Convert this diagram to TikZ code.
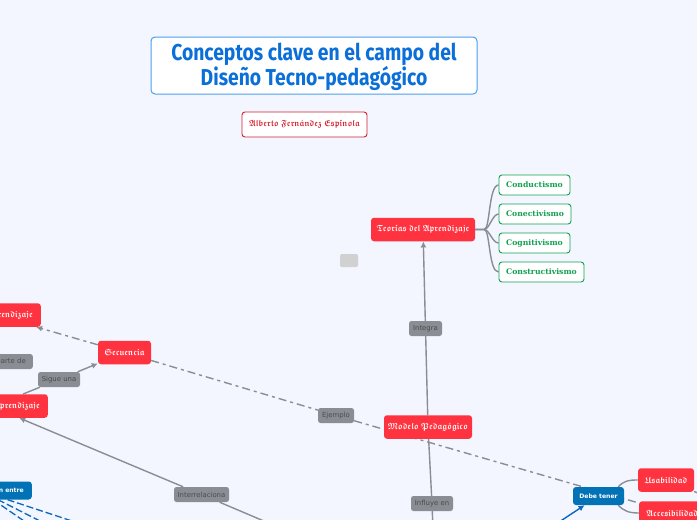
\documentclass[tikz,border=0pt]{standalone}
\usepackage{fontspec}
\usepackage{amsfonts}
\usepackage{xcolor}
\usetikzlibrary{arrows.meta,backgrounds}
\setsansfont{Fira Sans}[FakeStretch=0.84]
\newfontfamily\labfont{DejaVu Sans}
\newfontfamily\slabfont{DejaVu Serif}
\newcommand{\goth}[1]{\scalebox{0.89}[1]{\usefont{U}{euf}{b}{n}#1}}
\newcommand{\gs}{\hspace{0.3em}}
\newcommand{\gacc}[1]{\ooalign{\hidewidth{\normalfont\'{}}\hidewidth\cr #1}}
\definecolor{page}{HTML}{F3F6FE}
\definecolor{titleblue}{HTML}{0A6FD8}
\definecolor{titleline}{HTML}{4A9FF0}
\definecolor{hotred}{HTML}{FF3340}
\definecolor{darkred}{HTML}{D3202E}
\definecolor{leafgreen}{HTML}{12A150}
\definecolor{linkgrey}{HTML}{8A8D93}
\definecolor{deepblue}{HTML}{0072B5}
\definecolor{dashblue}{HTML}{0B66BF}
\tikzset{
  titlebox/.style={draw=titleline, line width=1pt, fill=white, rounded corners=4pt, text=titleblue, align=center, font=\sffamily\bfseries\fontsize{23}{25}\selectfont, minimum width=326pt, minimum height=57pt, inner sep=0pt},
  authorbox/.style={draw=darkred, line width=0.9pt, fill=white, rounded corners=3pt, text=darkred, font=\fontsize{9}{11}\selectfont, minimum width=125pt, minimum height=25pt, inner sep=0pt},
  redbox/.style={fill=hotred, rounded corners=3pt, text=white, font=\fontsize{9}{11}\selectfont, minimum height=23.5pt, inner sep=0pt},
  leafbox/.style={draw=leafgreen, line width=0.9pt, fill=white, rounded corners=3pt, text=leafgreen, font=\slabfont\bfseries\fontsize{7.7}{10}\selectfont, minimum height=20pt, inner sep=0pt},
  tagbox/.style={fill=linkgrey, rounded corners=2.5pt, text=black!70, font=\labfont\fontsize{6.9}{9}\selectfont, minimum height=15pt, inner sep=0pt},
  bluebox/.style={fill=deepblue, rounded corners=3pt, text=white, font=\labfont\bfseries\fontsize{6.1}{9}\selectfont, minimum height=18pt, inner sep=0pt},
  rightset/.style={anchor=east, text width=#1, align=right},
  link/.style={draw=linkgrey, line width=1.4pt},
  twig/.style={draw=linkgrey, line width=1.4pt},
  dashlink/.style={draw=linkgrey, line width=1.4pt, dash pattern=on 8pt off 4pt on 3pt off 4pt},
  bluedash/.style={draw=dashblue, line width=1.3pt, dash pattern=on 7pt off 3pt},
  tip/.style={-{Latex[length=6pt,width=6pt]}},
}
\begin{document}
\begin{tikzpicture}[x=1pt,y=-1pt]
  \useasboundingbox (0,0) rectangle (697,520);
  \clip (0,0) rectangle (697,520);

  % main boxes
  \node[titlebox] (title) at (314,65.5) {\rule{0pt}{20pt}Conceptos clave en el campo del\\Diseño Tecno-pedagógico};
  \node[authorbox] (author) at (304.5,124.5) {\goth{Alberto\gs Fern\gacc{a}ndez\gs Esp\gacc{i}nola}};
  \node[redbox,minimum width=104pt] (teorias) at (423,229.5) {\goth{Teor\gacc{i}as\gs del\gs Aprendizaje}};
  \node[redbox,minimum width=88pt] (modelo) at (428,427) {\goth{Modelo\gs Pedag\gacc{o}gico}};
  \node[redbox,minimum width=53pt] (secuencia) at (124.5,352.5) {\goth{Secuencia}};
  \node[redbox,rightset=92pt] (aprenA) at (41,315) {\goth{Aprendizaje}\hspace*{8pt}};
  \node[redbox,rightset=114pt] (aprenB) at (48,406) {\goth{Aprendizaje}\hspace*{8pt}};
  \node[redbox,minimum width=56pt] (usabilidad) at (666,480) {\goth{Usabilidad}};
  \node[redbox,minimum width=66pt,anchor=west] (acceso) at (639,513) {\goth{Accesibilidad}};

  % theories
  \node[leafbox,minimum width=71pt] (conduct) at (534.5,185) {Conductismo};
  \node[leafbox,minimum width=72pt] (conect) at (535,214) {Conectivismo};
  \node[leafbox,minimum width=71pt] (cognit) at (534.5,243) {Cognitivismo};
  \node[leafbox,minimum width=85pt] (construct) at (541.5,272) {Constructivismo};

  % link labels
  \node[tagbox,minimum width=33pt] (integra) at (425.5,328.5) {Integra};
  \node[tagbox,minimum width=42pt] (sigue) at (59,379.5) {Sigue una};
  \node[tagbox,minimum width=36pt] (ejemplo) at (336,415.5) {Ejemplo};
  \node[tagbox,minimum width=42pt] (influye) at (432,503.5) {Influye en};
  \node[tagbox,minimum width=55pt] (inter) at (201.5,494.5) {Interrelaciona};
  \node[tagbox,rightset=50pt] (parte) at (33,361.5) {parte de\hspace*{7pt}};
  \node[bluebox,minimum width=51pt] (debe) at (598.5,496) {Debe tener};
  \node[bluebox,rightset=104pt] (entre) at (32,490.5) {n entre\hspace*{8pt}};
  \node[fill=black!18,rounded corners=2pt,minimum width=18pt,minimum height=13pt,inner sep=0pt] (blank) at (349,260.5) {};

  % free ends
  \coordinate (endR) at (760,538);
  \coordinate (endI) at (433,530);
  \coordinate (endL) at (285,530);
  \coordinate (endB) at (550,528);
  \coordinate (endD1) at (75,522);
  \coordinate (endD2) at (42,522);
  \coordinate (endD3) at (24,521);
  \coordinate (endU) at (710,498);

  \begin{scope}[on background layer]
    \fill[page] (0,0) rectangle (697,520);
    \draw[link] (modelo) -- (integra);
    \draw[link,tip] (integra) -- (teorias);
    \draw[link] (modelo) -- (influye);
    \draw[link] (influye) -- (endI);
    \draw[link] (aprenB.north east) ++(-25,0) -- (sigue);
    \draw[link,tip] (sigue) -- (secuencia);
    \draw[dashlink,tip] (secuencia) -- (aprenA);
    \draw[dashlink] (secuencia) -- (ejemplo);
    \draw[dashlink] (ejemplo) -- (endR);
    \draw[link] (endL) -- (inter);
    \draw[link,tip] (inter) -- (aprenB);
    \draw[draw=dashblue,line width=1.4pt,tip] (endB) -- (debe);
    \draw[bluedash] (entre) -- (endD1);
    \draw[bluedash] (entre) -- (endD2);
    \draw[bluedash] (entre) -- (endD3);
    \draw[twig] (usabilidad) -- (endU);
    \draw[twig] (teorias.east) -- ++(9,0) .. controls +(6,0) and +(-10,0) .. (conduct.west);
    \draw[twig] (teorias.east) -- ++(9,0) .. controls +(5,0) and +(-6,0) .. (conect.west);
    \draw[twig] (teorias.east) -- ++(9,0) .. controls +(5,0) and +(-6,0) .. (cognit.west);
    \draw[twig] (teorias.east) -- ++(9,0) .. controls +(6,0) and +(-10,0) .. (construct.west);
    \draw[twig] (debe.north east) ++(-6,0) .. controls +(6,-6) and +(-10,0) .. (usabilidad.west);
    \draw[twig] (debe.south east) ++(-6,0) .. controls +(6,6) and +(-10,0) .. (acceso.west);
  \end{scope}
\end{tikzpicture}
\end{document}
